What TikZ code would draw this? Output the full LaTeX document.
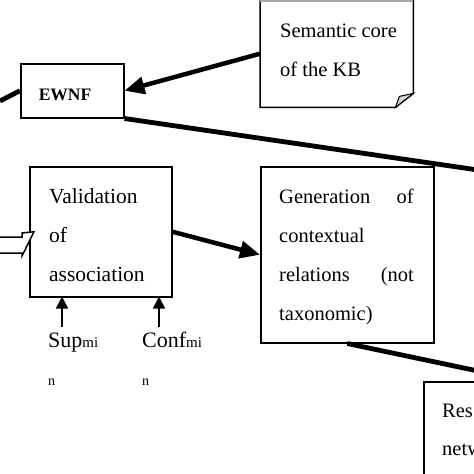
\documentclass[tikz,border=0pt]{standalone}
\usepackage{fontspec}
\setmainfont{Liberation Serif}
\usetikzlibrary{arrows.meta,calc}
\tikzset{
  box/.style={draw=black, line width=1.5pt, inner sep=0pt, anchor=north west},
  txt/.style={font=\fontsize{20.5}{24}\selectfont, inner sep=0pt, anchor=base west},
  thick line/.style={line width=4.8pt},
  bigarrow/.style={line width=4.5pt, -{Triangle[length=20pt,width=17pt]}},
  smallarrow/.style={line width=1.6pt, -{Triangle[length=12pt,width=12pt]}},
}
\begin{document}
\begin{tikzpicture}[x=1pt,y=-1pt]
\useasboundingbox (0,0) rectangle (474,474);
\fill[white] (0,0) rectangle (474,474);

% Semantic core note
\node[inner sep=0pt, minimum width=153pt, minimum height=107pt, anchor=north west] (sem) at (260,0) {};
\draw[line width=1.5pt, line join=miter] (sem.north west) -- (sem.south west) -- ($(sem.south east)+(-18,0)$) -- ($(sem.south east)+(0,-14)$) -- (sem.north east);
\draw[gray!70, line width=1.5pt] ($(sem.north west)+(0,0.75)$) -- ($(sem.north east)+(0,0.75)$);
\filldraw[fill=gray!35, draw=black, line width=1pt] ($(sem.south east)+(-18,0)$) -- ($(sem.south east)+(-14,-11)$) -- ($(sem.south east)+(0,-14)$) -- cycle;
\node[txt] (semA) at (280,37) {Semantic core};
\node[txt] (semB) at (280,76) {of the KB};

% EWNF
\node[box, minimum width=103pt, minimum height=54pt] (ewnf) at (20,63) {};
\node[font=\fontsize{17.5}{20}\selectfont\bfseries, inner sep=0pt, anchor=base] (ewnfT) at (65,100) {EWNF};

% Validation
\node[box, minimum width=142pt, minimum height=130pt] (val) at (29,166) {};
\node[txt, font=\fontsize{21.5}{24}\selectfont] (valA) at (49,203) {Validation};
\node[txt, font=\fontsize{21.5}{24}\selectfont] (valB) at (49,242) {of};
\node[txt, font=\fontsize{21.5}{24}\selectfont] (valC) at (49,281) {association};

% Generation
\node[box, minimum width=173pt, minimum height=176pt] (gen) at (260,166) {};
\node[txt] (genA) at (279,203) {Generation};
\node[txt, anchor=base east] (genB) at (414,203) {of};
\node[txt] (genC) at (279,242) {contextual};
\node[txt] (genD) at (279,281) {relations};
\node[txt, anchor=base east] (genE) at (414,281) {(not};
\node[txt] (genF) at (279,320) {taxonomic)};

% Res netw box (cut off)
\node[box, minimum width=90pt, minimum height=110pt] (res) at (423,381) {};
\node[txt] (resA) at (442,417) {Res};
\node[txt] (resB) at (442,455) {netw};

% Sup / Conf labels
\node[txt, font=\fontsize{22}{24}\selectfont] (sup) at (48,347) {Sup\fontsize{15}{17}\selectfont mi};
\node[txt, font=\fontsize{22}{24}\selectfont] (conf) at (142,347) {Conf\fontsize{15}{17}\selectfont mi};
\node[txt, font=\fontsize{14}{16}\selectfont] (supn) at (48,385) {n};
\node[txt, font=\fontsize{14}{16}\selectfont] (confn) at (142,385) {n};
\coordinate (supS) at (62,327);
\coordinate (confS) at (159,327);
\draw[smallarrow] (supS) -- (62,296.5);
\draw[smallarrow] (confS) -- (159,296.5);

% Connectors
\coordinate (leftin) at (0,101);
\draw[thick line] (leftin) -- (ewnf.west);
\draw[bigarrow] (sem.west) -- (ewnf.east);
\coordinate (farright) at (478,170);
\draw[thick line] (ewnf.south east) -- (farright);
\draw[bigarrow] (val.east) -- (gen.west);
\coordinate (resin) at (478,371);
\draw[thick line] (gen.south) -- (resin);

% Open arrow into Validation
\coordinate (openS) at (0,245);
\draw[line width=1.5pt, fill=white, line join=miter] ($(openS)+(-2,-8)$) -- ($(openS)+(22,-8)$) -- ($(openS)+(22,-12)$) -- ($(val.west)+(5,0)$) -- ($(openS)+(22,11)$) -- ($(openS)+(22,8)$) -- ($(openS)+(-2,8)$);
\end{tikzpicture}
\end{document}
